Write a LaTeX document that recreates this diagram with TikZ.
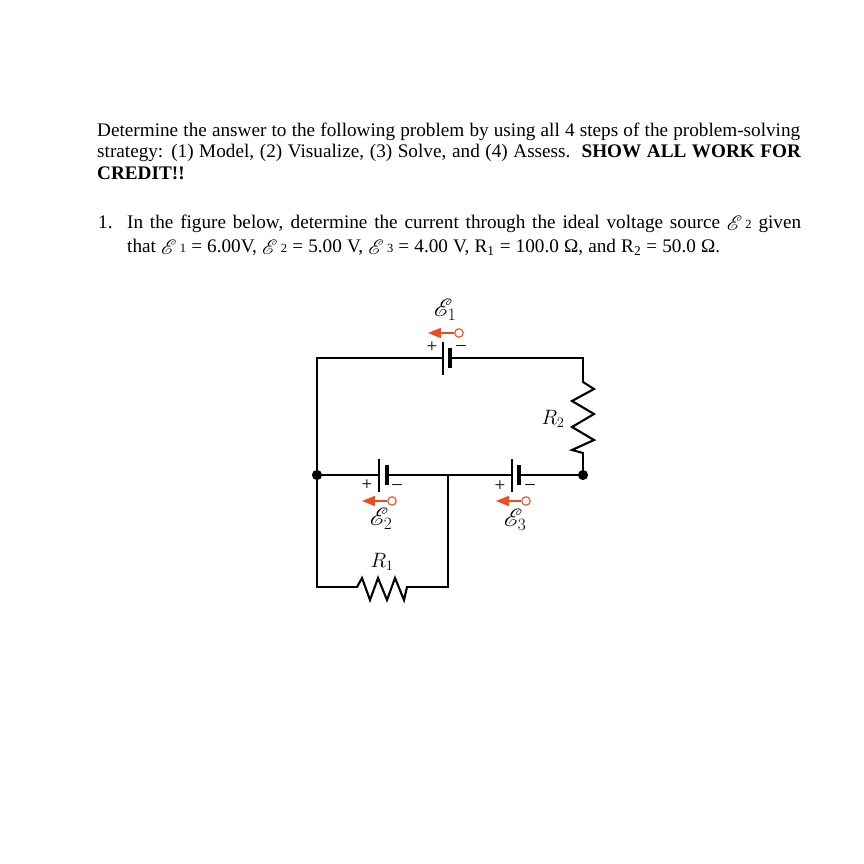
\documentclass[tikz,border=0pt]{standalone}
\usepackage{fontspec}
\usepackage{mathrsfs}
\setmainfont{Liberation Serif}
\usetikzlibrary{arrows.meta}
\definecolor{emforange}{RGB}{232,80,30}
\newcommand{\emfsym}[1]{\smash{\raisebox{-2pt}{\fontsize{21}{21}\selectfont$\mathscr{E}$}}\,{\fontsize{12.5}{14}\selectfont #1}}
\tikzset{
  wire/.style={line width=2.1pt, black, line cap=rect, line join=miter},
  plate/.style={line width=2.1pt, black},
  thickplate/.style={line width=4.2pt, black},
  resline/.style={line width=2.1pt, black, line join=miter},
  joint/.style={fill=black, circle, inner sep=3.6pt},
  textline/.style={anchor=base west, inner sep=0pt, font=\fontsize{19.2}{21}\selectfont},
  sign/.style={inner sep=0pt, font=\fontsize{19}{20}\selectfont},
  emflabel/.style={inner sep=0pt, font=\fontsize{23}{24}\selectfont},
  reslabel/.style={inner sep=0pt, font=\fontsize{22}{23}\selectfont},
  emfarrow/.style={line width=1.7pt, draw=emforange, -{Triangle[length=13pt,width=10pt,fill=emforange]}},
  emfring/.style={draw=emforange, circle, line width=1.1pt, fill=white, inner sep=3pt}
}
\begin{document}
\begin{tikzpicture}[x=1pt, y=-1pt]
    \useasboundingbox (0,0) rectangle (864,864);
    % text above the circuit
    \node[textline] (lineA) at (97,136) {\makebox[703pt][s]{Determine the answer to the following problem by using all 4 steps of the problem-solving}};
    \node[textline] (lineB) at (97,157.5) {\makebox[704pt][s]{strategy: (1) Model, (2) Visualize, (3) Solve, and (4) Assess.\ \ \textbf{SHOW ALL WORK FOR}}};
    \node[textline] (lineC) at (97,179) {\textbf{CREDIT!!}};
    \node[textline] (itemnum) at (98,228) {1.};
    \node[textline] (lineD) at (127,228) {\makebox[674pt][s]{In the figure below, determine the current through the ideal voltage source \emfsym{2} given}};
    \node[textline] (lineE) at (127,252) {\makebox[593pt][s]{that \emfsym{1} = 6.00V, \emfsym{2} = 5.00 V, \emfsym{3} = 4.00 V, R\textsubscript{1} = 100.0 Ω, and R\textsubscript{2} = 50.0 Ω.}};
    % corners and junctions
    \coordinate (topleft) at (317,358);
    \coordinate (topright) at (583,358);
    \coordinate (botleft) at (317,587);
    \coordinate (botmid) at (448,587);
    \coordinate (midmid) at (448,475);
    \node[joint] (jleft) at (317,475) {};
    \node[joint] (jright) at (583,475) {};
    % batteries: long plate, short plate
    \foreach \bat/\xa/\xb/\ya in {batA/443/450/358, batB/379/387/475, batC/512/519/475} {
        \coordinate (\bat long) at (\xa,\ya);
        \coordinate (\bat short) at (\xb,\ya);
        \draw[plate] ([yshift=-16.5pt]\bat long) -- ([yshift=16.5pt]\bat long);
        \draw[thickplate] ([yshift=-10pt]\bat short) -- ([yshift=10pt]\bat short);
    }
    % resistor ends
    \coordinate (rtwotop) at (583,382);
    \coordinate (rtwobot) at (583,453);
    \coordinate (ronel) at (357,587);
    \coordinate (roner) at (407,587);
    % wires
    \draw[wire] (batAlong) -- (topleft) -- (jleft);
    \draw[wire] (batAshort) -- (topright) -- (rtwotop);
    \draw[wire] (rtwobot) -- (jright);
    \draw[wire] (jleft) -- (batBlong);
    \draw[wire] (batBshort) -- (batClong);
    \draw[wire] (batCshort) -- (jright);
    \draw[wire] (jleft) -- (botleft) -- (ronel);
    \draw[wire] (roner) -- (botmid) -- (midmid);
    \draw[resline] (rtwotop) -- ++(11,7) -- ++(-22,12) -- ++(22,13) -- ++(-22,13) -- ++(22,13) -- ++(-22,10) -- (rtwobot);
    \draw[resline] (ronel) -- ++(5,-9) -- ++(8,22) -- ++(8,-22) -- ++(9,22) -- ++(8,-22) -- ++(9,22) -- (roner);
    % emf arrows
    \node[emfring] (ringA) at (459,333) {};
    \node[emfring] (ringB) at (392,501) {};
    \node[emfring] (ringC) at (526,501) {};
    \coordinate (tipA) at (428,333);
    \coordinate (tipB) at (362,501);
    \coordinate (tipC) at (496,501);
    \draw[emfarrow] (ringA) -- (tipA);
    \draw[emfarrow] (ringB) -- (tipB);
    \draw[emfarrow] (ringC) -- (tipC);
    % signs
    \node[sign] (plusA) at (432,347) {+};
    \node[sign] (minusA) at (461,348) {--};
    \node[sign] (plusB) at (367,485) {+};
    \node[sign] (minusB) at (397,487) {--};
    \node[sign] (plusC) at (500,486) {+};
    \node[sign] (minusC) at (530,487) {--};
    % labels
    \node[emflabel] (emfA) at (445,310) {$\mathscr{E}_1$};
    \node[emflabel] (emfB) at (381,519) {$\mathscr{E}_2$};
    \node[emflabel] (emfC) at (515,520) {$\mathscr{E}_3$};
    \node[reslabel] (labRone) at (382,562) {$R_1$};
    \node[reslabel] (labRtwo) at (553,419) {$R_2$};
\end{tikzpicture}
\end{document}
